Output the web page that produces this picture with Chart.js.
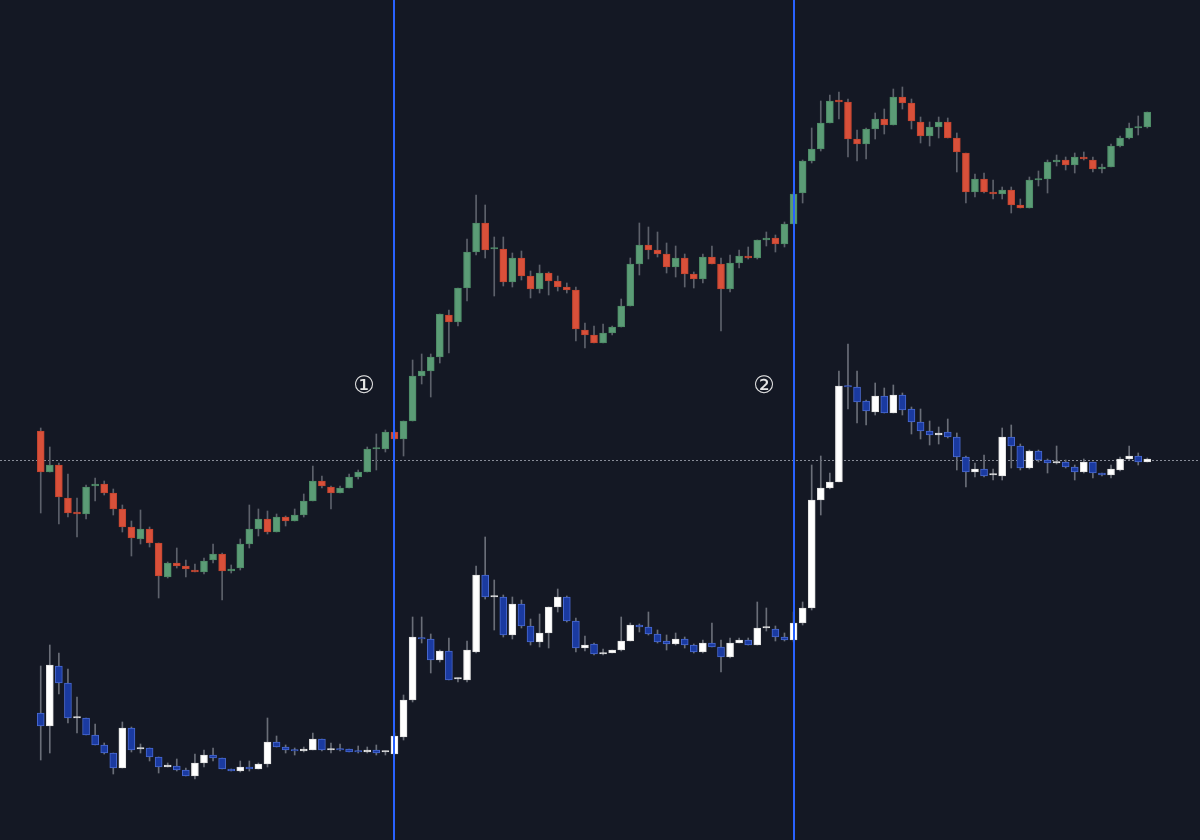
<!DOCTYPE html>
<html>
<head>
<meta charset="utf-8">
<script src="https://cdn.jsdelivr.net/npm/chart.js@4.4.0/dist/chart.umd.min.js"></script>
<style>
  html, body { margin: 0; padding: 0; background: #141824; }
  #wrap { width: 1200px; height: 840px; }
</style>
</head>
<body>
<div id="wrap"><canvas id="candles" width="1200" height="840"></canvas></div>
<script>
// upper series (green up / red down)
var topO = [409,368,375,342,328,326,354,356,347,331, 313,301,311,297,263,277,274,270,268,280,
  286,269,272,296,311,321,308,323,319,325, 339,359,353,347,352,363,368,391,391,408,
  401,419,464,469,483,525,518,552,588,617, 591,591,558,582,564,551,567,559,553,550,
  510,505,497,507,513,534,576,595,590,586, 573,582,566,561,583,576,551,577,584,582,
  600,602,596,616,647,679,691,717,740,738, 701,696,711,721,715,743,737,718,704,713,
  718,702,687,648,661,648,646,650,635,632, 660,661,678,680,675,683,680,671,673,694,
  702,712,713];
var topC = [368,375,343,327,326,353,356,347,331,313, 302,311,297,264,277,274,271,268,279,286,
  269,271,296,311,321,308,323,319,325,339, 359,354,347,352,363,368,391,391,408,401,
  419,464,469,483,526,518,552,588,617,590, 591,558,582,564,551,567,559,553,550,511,
  505,497,507,513,534,576,595,590,586,573, 582,566,561,583,576,551,577,584,582,600,
  602,596,616,646,679,691,717,739,738,701, 696,711,721,715,743,737,719,704,713,718,
  702,688,648,661,648,646,650,635,632,660, 661,678,680,675,683,681,671,673,694,702,
  712,713,728];
var topH = [412,393,377,366,342,355,362,359,351,335, 319,330,313,297,278,292,280,276,282,296,
  287,275,301,335,331,329,326,324,331,346, 374,364,354,354,366,370,393,406,410,410,
  419,480,486,486,526,530,552,601,645,635, 603,603,587,589,569,575,568,564,557,553,
  517,514,516,514,541,582,617,613,608,597, 594,586,568,586,594,582,585,590,593,600,
  608,605,618,648,680,712,739,745,748,741, 710,712,727,731,751,753,741,723,718,723,
  722,707,687,666,667,660,653,653,641,663, 669,680,685,683,687,688,683,676,696,704,
  717,724,728];
var topL = [327,368,316,323,303,321,339,345,325,308, 284,296,293,242,262,272,263,268,266,277,
  240,267,270,292,304,306,308,314,319,323, 339,352,331,347,352,361,368,370,388,400,
  384,419,456,443,477,487,514,539,585,582, 544,554,553,560,542,547,545,549,547,499,
  492,497,497,505,513,534,565,581,583,567, 563,553,552,557,576,509,548,572,581,581,
  594,588,593,616,637,677,689,717,721,683, 679,681,701,706,715,731,711,697,694,702,
  702,668,637,643,647,641,641,627,632,632, 654,647,674,670,667,680,668,667,673,693,
  701,705,712];

// lower series (white up / blue down)
var botO = [127,114,174,157,122,122,105,95,87,72, 112,91,92,83,73,74,70,64,77,85,
  82,71,69,73,71,76,98,93,90,89, 90,101,90,91,91,89,88,90,88,86,
  103,140,202,201,180,189,161,160,188,265, 243,243,205,236,214,198,207,233,243,219,
  192,196,186,187,190,199,215,213,206,199, 196,201,195,188,197,193,183,197,200,195,
  212,211,203,200,217,232,340,352,358,454, 453,439,428,444,427,445,431,418,409,405,
  408,403,383,368,371,365,364,403,394,372, 389,380,377,378,373,368,378,367,365,370,
  381,384,378];
var botC = [114,175,157,122,122,105,95,87,72,112, 90,92,83,73,75,70,64,77,85,82,
  71,69,73,71,76,98,93,90,89,91, 101,90,91,90,88,88,90,87,88,104,
  140,203,201,180,189,160,161,190,265,243, 243,205,236,214,198,207,233,243,219,192,
  195,186,187,190,199,215,213,206,198,196, 201,195,188,197,193,183,197,200,195,212,
  212,203,200,217,232,340,352,358,454,453, 438,429,444,427,445,430,418,409,405,407,
  403,383,368,371,364,365,403,394,372,389, 380,377,378,373,368,378,367,365,371,381,
  384,378,381];
var botH = [174,195,187,171,143,122,116,97,87,118, 113,96,92,83,77,81,72,86,90,92,
  82,71,79,79,77,122,104,95,92,93, 107,101,97,96,91,94,93,95,89,107,
  145,223,223,206,190,202,162,199,274,303, 260,245,243,240,221,226,233,251,244,222,
  204,197,191,190,223,217,216,228,210,205, 207,203,196,200,217,200,202,202,202,238,
  232,214,207,228,238,375,384,367,469,496, 469,440,457,452,455,447,433,431,419,413,
  421,407,384,377,385,371,412,415,396,390, 390,381,394,380,375,381,378,367,375,383,
  394,387,382];
var botL = [80,87,146,117,107,105,95,86,66,72, 88,87,79,67,73,69,64,61,73,79,
  71,69,68,69,71,73,93,87,85,88, 90,89,87,89,88,87,87,85,85,86,
  100,138,197,167,178,160,158,158,187,241, 210,203,201,212,195,193,192,228,218,188,
  189,185,185,187,189,199,208,205,197,190, 195,192,187,187,193,168,182,197,195,195,
  209,199,199,198,215,230,325,351,358,431, 417,415,425,427,427,425,406,401,395,396,
  402,370,353,363,363,360,360,372,370,371, 378,367,376,372,360,367,362,364,362,369,
  380,375,378];

var markers = [{ idx: 39, label: '①' }, { idx: 83, label: '②' }];
var refPrice = 380;

function bodies(o, c) {
  return o.map(function(v, i) {
    var lo = Math.min(v, c[i]), hi = Math.max(v, c[i]);
    if (hi - lo < 1.5) hi = lo + 1.5;
    return { x: i, y: [lo, hi] };
  });
}
function wicks(h, l) {
  return h.map(function(v, i) { return { x: i, y: [l[i], v] }; });
}
function colors(o, c, up, down) {
  return o.map(function(v, i) { return c[i] >= v ? up : down; });
}

var overlay = {
  id: 'overlay',
  beforeDatasetsDraw: function(chart) {
    var ctx = chart.ctx, xs = chart.scales.x, ys = chart.scales.y;
    var y = ys.getPixelForValue(refPrice);
    ctx.save();
    ctx.strokeStyle = '#8a8e99';
    ctx.lineWidth = 1;
    ctx.setLineDash([2, 2]);
    ctx.beginPath();
    ctx.moveTo(0, y + 0.5);
    ctx.lineTo(chart.width, y + 0.5);
    ctx.stroke();
    ctx.restore();
  },
  afterDatasetsDraw: function(chart) {
    var ctx = chart.ctx, xs = chart.scales.x;
    ctx.save();
    markers.forEach(function(m) {
      var x = Math.round(xs.getPixelForValue(m.idx));
      ctx.strokeStyle = '#2962ff';
      ctx.lineWidth = 2;
      ctx.beginPath();
      ctx.moveTo(x, 0);
      ctx.lineTo(x, chart.height);
      ctx.stroke();
      ctx.fillStyle = '#e6e6e6';
      ctx.font = '24px "DejaVu Sans"';
      ctx.textAlign = 'center';
      ctx.textBaseline = 'middle';
      ctx.fillText(m.label, x - 30, 387);
    });
    ctx.restore();
  }
};

new Chart(document.getElementById('candles').getContext('2d'), {
  type: 'bar',
  data: {
    datasets: [
      { data: bodies(topO, topC), backgroundColor: colors(topO, topC, '#5b9c76', '#d9503a'),
        borderColor: colors(topO, topC, '#4d8a66', '#c0442f'), borderWidth: 1, borderSkipped: false,
        barThickness: 7, grouped: false },
      { data: bodies(botO, botC), backgroundColor: colors(botO, botC, '#ffffff', '#1a3aa0'),
        borderColor: colors(botO, botC, '#e0e0e0', '#4a6ad0'), borderWidth: 1, borderSkipped: false,
        barThickness: 7, grouped: false },
      { data: wicks(topH, topL), backgroundColor: '#5d616b', barThickness: 1, grouped: false },
      { data: wicks(botH, botL), backgroundColor: '#6a6e78', barThickness: 1, grouped: false }
    ]
  },
  options: {
    responsive: false,
    animation: false,
    layout: { padding: 0 },
    plugins: { legend: { display: false }, tooltip: { enabled: false } },
    scales: {
      x: { type: 'linear', min: -4.49, max: 127.81, display: false, offset: false },
      y: { type: 'linear', min: 0, max: 840, display: false }
    }
  },
  plugins: [overlay]
});
</script>
</body>
</html>
